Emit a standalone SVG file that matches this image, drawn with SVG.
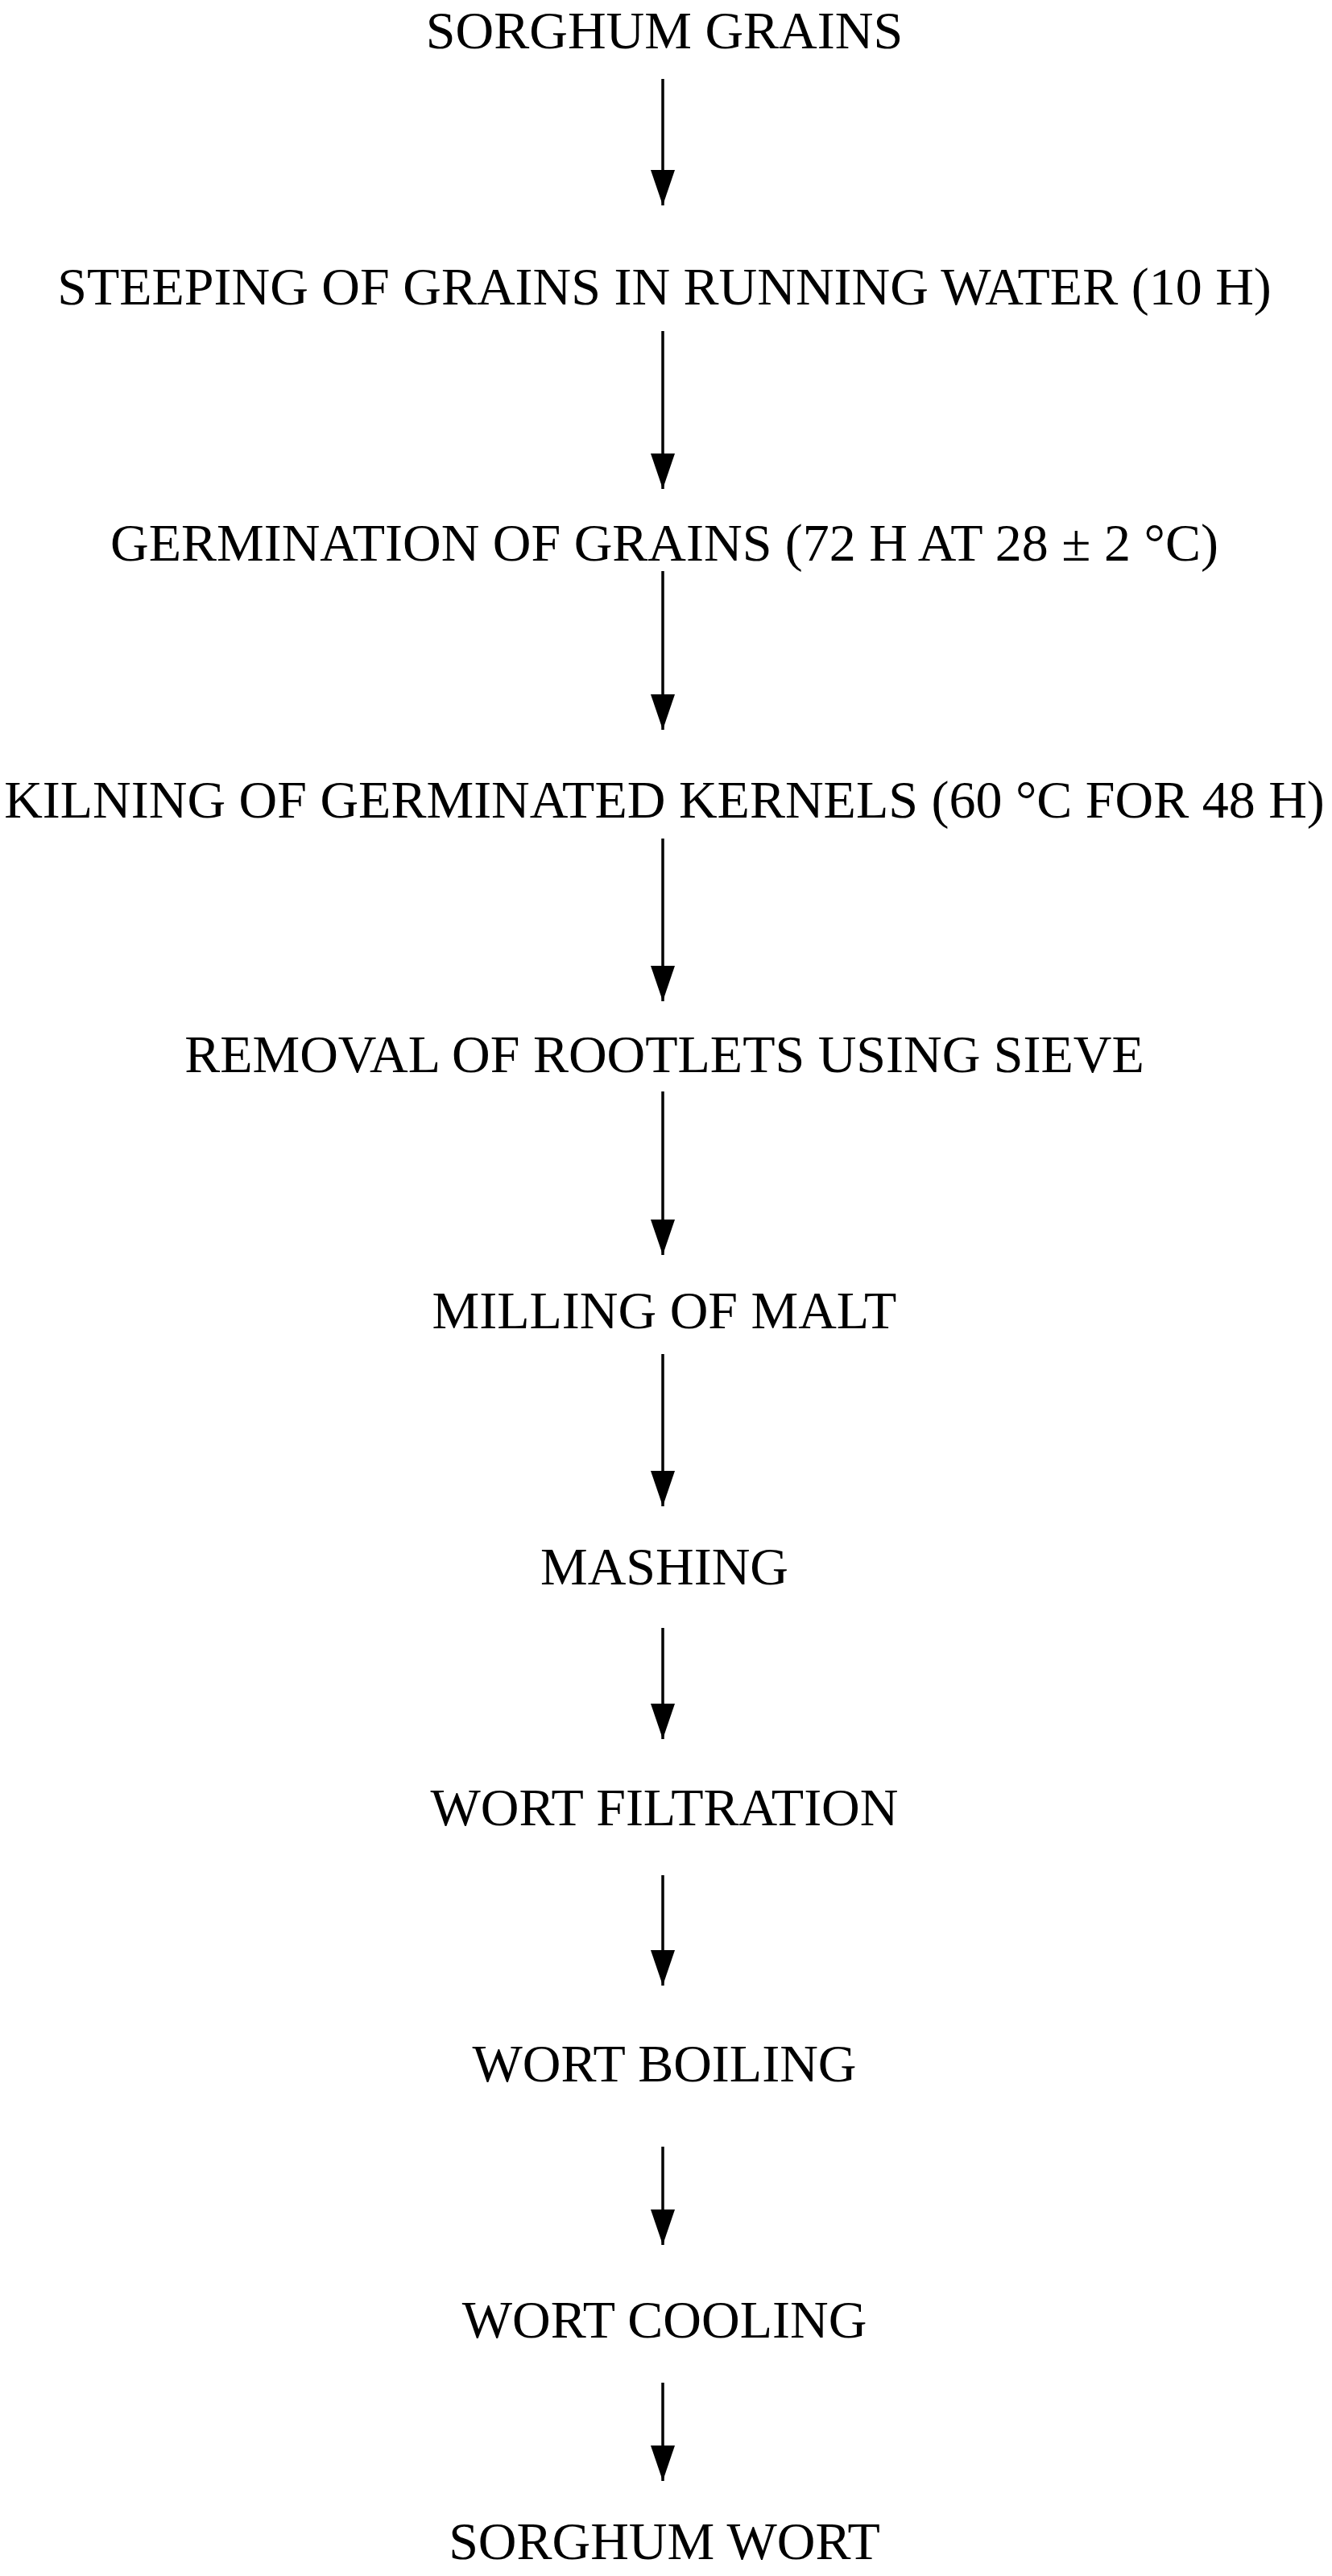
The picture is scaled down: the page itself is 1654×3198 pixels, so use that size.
<svg xmlns="http://www.w3.org/2000/svg" width="1654" height="3198" viewBox="0 0 1654 3198">
<style>
text{font-family:"Liberation Serif","Times New Roman",serif;font-size:66px;fill:#000;text-anchor:middle}
.c line{stroke:#000;stroke-width:3.5}
</style>
<defs><marker id="b" markerUnits="userSpaceOnUse" markerWidth="44" markerHeight="30" refX="44" refY="15" orient="auto" viewBox="0 0 44 30"><path d="M0 0L44 15L0 30Z" fill="#000"/></marker></defs>
<rect width="1654" height="3198" fill="#fff"/>
<g id="n1"><text x="825" y="60">SORGHUM GRAINS</text></g>
<g id="n2"><text x="825" y="378">STEEPING OF GRAINS IN RUNNING WATER (10 H)</text></g>
<g id="n3"><text x="825" y="696">GERMINATION OF GRAINS (72 H AT 28 ± 2 °C)</text></g>
<g id="n4"><text x="825" y="1015">KILNING OF GERMINATED KERNELS (60 °C FOR 48 H)</text></g>
<g id="n5"><text x="825" y="1331">REMOVAL OF ROOTLETS USING SIEVE</text></g>
<g id="n6"><text x="825" y="1649">MILLING OF MALT</text></g>
<g id="n7"><text x="825" y="1967">MASHING</text></g>
<g id="n8"><text x="825" y="2266">WORT FILTRATION</text></g>
<g id="n9"><text x="825" y="2584">WORT BOILING</text></g>
<g id="n10"><text x="825" y="2902">WORT COOLING</text></g>
<g id="n11"><text x="825" y="3177">SORGHUM WORT</text></g>
<g class="c" id="connectors">
<line x1="823" y1="98" x2="823" y2="255" marker-end="url(#b)"/>
<line x1="823" y1="411" x2="823" y2="607" marker-end="url(#b)"/>
<line x1="823" y1="709" x2="823" y2="906" marker-end="url(#b)"/>
<line x1="823" y1="1041" x2="823" y2="1243" marker-end="url(#b)"/>
<line x1="823" y1="1355" x2="823" y2="1558" marker-end="url(#b)"/>
<line x1="823" y1="1681" x2="823" y2="1870" marker-end="url(#b)"/>
<line x1="823" y1="2021" x2="823" y2="2159" marker-end="url(#b)"/>
<line x1="823" y1="2328" x2="823" y2="2465" marker-end="url(#b)"/>
<line x1="823" y1="2665" x2="823" y2="2787" marker-end="url(#b)"/>
<line x1="823" y1="2958" x2="823" y2="3080" marker-end="url(#b)"/>
</g>
</svg>
